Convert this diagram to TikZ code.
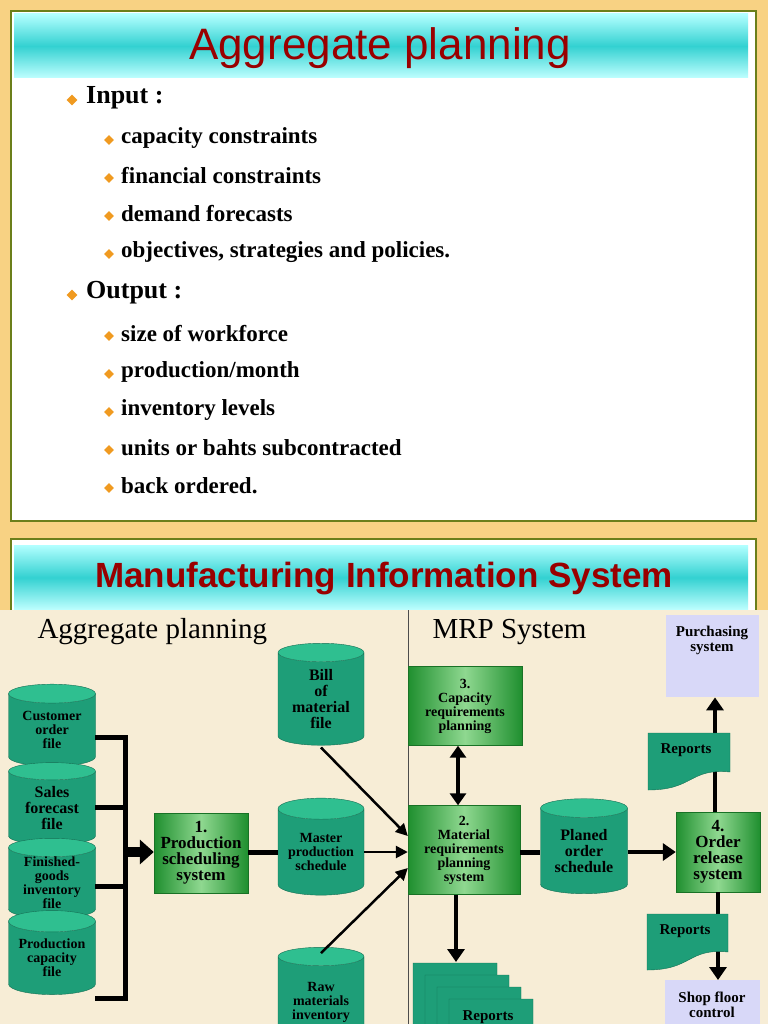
\documentclass[tikz,border=0pt]{standalone}
\usepackage{fontspec}
\setmainfont{Liberation Serif}
\newfontfamily\arial{Liberation Sans}
\usetikzlibrary{shapes.geometric,arrows.meta}
\definecolor{bgor}{HTML}{F8D283}
\definecolor{olive}{HTML}{6B7F1A}
\definecolor{dred}{HTML}{990000}
\definecolor{teal1}{HTML}{1E9E78}
\definecolor{teal2}{HTML}{2FBF90}
\definecolor{beige}{HTML}{F7EDD6}
\definecolor{gdark}{HTML}{1F8F2F}
\definecolor{glight}{HTML}{8FD890}
\definecolor{lav}{HTML}{D8D8F8}
\definecolor{bul}{HTML}{F09A20}
\tikzset{
 band/.style={top color=cyan!30!white, bottom color=cyan!25!white, middle color=cyan!55!teal!80},
 bullet/.style={diamond, fill=bul, inner sep=0pt, minimum width=11pt, minimum height=11pt},
 btext/.style={anchor=west, font=\fontsize{23}{26}\selectfont\bfseries, inner sep=0pt},
 cyl/.style={cylinder, shape border rotate=90, draw=teal1!70!black, line width=0.4pt, cylinder uses custom fill, cylinder body fill=teal1, cylinder end fill=teal2, aspect=0.32, inner sep=0pt, align=center, font=\fontsize{14}{14}\selectfont\bfseries},
 gbox/.style={draw=gdark!80!black, left color=gdark, right color=gdark, middle color=glight, align=center, inner sep=1pt, font=\fontsize{14}{14}\selectfont\bfseries},
 lbox/.style={fill=lav, align=center, inner sep=1pt, font=\fontsize{15}{15}\selectfont\bfseries},
 conn/.style={line width=5pt},
 arr/.style={line width=3.5pt, -{Triangle[length=13pt,width=17pt]}},
 sarr/.style={line width=2.5pt, -{Triangle[length=12pt,width=12pt]}},
 dtext/.style={font=\fontsize{15}{15}\selectfont\bfseries, inner sep=0pt}
}
\newcommand{\docshape}[4]{% x1 y1 x2 y2
 \fill[teal1, draw=teal1!70!black] (#1,#2) -- (#3,#2) -- (#3,{#4-18}) .. controls ({(#1+#3)/2},{#4-22}) and ({(#1+#3)/2+5},#4) .. (#1,#4) -- cycle;}
\begin{document}
\begin{tikzpicture}[x=1pt,y=-1pt]
\useasboundingbox (0,0) rectangle (768,1024);
\fill[bgor] (0,0) rectangle (768,1024);
% top slide
\draw[olive, line width=2.5pt, fill=white] (11,11) rectangle (756,521);
\shade[band] (14,14) rectangle (748,78);
\node[font=\arial\fontsize{44}{44}\selectfont, text=dred] (t1) at (380,48) {Aggregate planning};
\node[bullet] (b0) at (72,100) {};
\node[btext, font=\fontsize{26}{28}\selectfont\bfseries] (i0) at (86,98) {Input :};
\foreach \y/\t [count=\i] in {136/{capacity constraints},174/{financial constraints},212/{demand forecasts},250/{objectives, strategies and policies.}}{
 \node[bullet, minimum width=10pt, minimum height=10pt] (bi\i) at (109,\y+4) {};
 \node[btext] (ti\i) at (121,\y+2) {\t};}
\node[bullet] (b1) at (72,295) {};
\node[btext, font=\fontsize{26}{28}\selectfont\bfseries] (o0) at (86,293) {Output :};
\foreach \y/\t [count=\i] in {332/{size of workforce},370/{production/month},408/{inventory levels},446/{units or bahts subcontracted},484/{back ordered.}}{
 \node[bullet, minimum width=10pt, minimum height=10pt] (bo\i) at (109,\y+4) {};
 \node[btext] (to\i) at (121,\y+2) {\t};}
% second slide
\draw[olive, line width=2.5pt, fill=white] (11,539) rectangle (756,1030);
\shade[band] (14,545) rectangle (748,610);
\node[font=\arial\fontsize{35}{35}\selectfont\bfseries, text=dred] (t2) at (384,579) {Manufacturing Information System};
\fill[beige] (0,610) rectangle (768,1024);
\draw[line width=1pt, black!70] (408,610) -- (408,1024);
\node[font=\fontsize{29}{29}\selectfont, anchor=west] (ap) at (34,632) {Aggregate planning};
\node[font=\fontsize{29}{29}\selectfont, anchor=west] (mrp) at (429,632) {MRP System};
% left stack
\node[cyl, minimum width=87pt, minimum height=82pt] (c1) at (52,730) {Customer\\order\\file};
\node[cyl, minimum width=87pt, minimum height=82pt, font=\fontsize{16}{16}\selectfont\bfseries] (c2) at (52,808) {Sales\\forecast\\file};
\node[cyl, minimum width=87pt, minimum height=80pt] (c3) at (52,883) {Finished-\\goods\\inventory\\file};
\node[cyl, minimum width=87pt, minimum height=84pt] (c4) at (52,958) {Production\\capacity\\file};
\coordinate (j1) at (125,737); \coordinate (j2) at (125,807);
\coordinate (j3) at (125,886); \coordinate (j4) at (125,998);
\coordinate (jm) at (125,852);
\draw[conn] (95,737) -- (j1) -- (j4) -- (95,998);
\draw[conn] (95,807) -- (j2); \draw[conn] (95,886) -- (j3);
\node[gbox, minimum width=94pt, minimum height=80pt, font=\fontsize{17}{16}\selectfont\bfseries] (p1) at (201,853) {1.\\Production\\scheduling\\system};
\draw[line width=10pt, -{Triangle[length=14pt,width=24pt]}] (jm) -- (p1.west |- jm);
\node[cyl, minimum width=86pt, minimum height=102pt, font=\fontsize{16}{16}\selectfont\bfseries] (bom) at (321,699) {Bill\\of\\material\\file};
\node[cyl, minimum width=86pt, minimum height=97pt] (mps) at (321,852) {Master\\production\\schedule};
\node[cyl, minimum width=86pt, minimum height=100pt] (raw) at (321,1002) {Raw\\materials\\inventory};
\coordinate (hy) at (0,852);
\draw[conn] (p1.east |- hy) -- (mps.west |- hy);
\node[gbox, minimum width=112pt, minimum height=89pt] (p2) at (464,850) {2.\\Material\\requirements\\planning\\system};
\node[gbox, minimum width=114pt, minimum height=79pt] (p3) at (465,706) {3.\\Capacity\\requirements\\planning};
\draw[sarr] (bom.south) ++(0,2) -- (p2.west |- 0,836);
\draw[sarr] (mps.east |- hy) -- (p2.west |- hy);
\draw[sarr] (raw.north) ++(0,6) -- (p2.west |- 0,868);
\draw[line width=3.5pt, {Triangle[length=12pt,width=16pt]}-{Triangle[length=12pt,width=16pt]}] (p3.south -| 458,0) -- (p2.north -| 458,0);
\node[cyl, minimum width=87pt, minimum height=95pt, font=\fontsize{16}{16}\selectfont\bfseries] (pos) at (584,851) {Planed\\order\\schedule};
\draw[conn] (p2.east |- hy) -- (pos.west |- hy);
\node[gbox, minimum width=84pt, minimum height=80pt, font=\fontsize{17}{16}\selectfont\bfseries] (p4) at (718,852) {4.\\Order\\release\\system};
\draw[arr] (pos.east |- hy) -- (p4.west |- hy);
\node[lbox, minimum width=93pt, minimum height=80pt, anchor=north] (pur) at (712,615) {\rule{0pt}{20pt}Purchasing\\system\\[30pt]};
\node[lbox, minimum width=95pt, minimum height=50pt, anchor=north] (shop) at (712,980) {Shop floor\\control};
\draw[arr] (p4.north -| 715,0) -- (pur.south -| 715,0);
\draw[arr] (p4.south -| 718,0) -- (shop.north -| 718,0);
\docshape{648}{733}{730}{790}
\node[dtext] (r1) at (686,750) {Reports};
\docshape{647}{914}{728}{970}
\node[dtext] (r2) at (685,931) {Reports};
% report stack
\docshape{413}{963}{497}{1040}
\docshape{425}{975}{509}{1045}
\docshape{437}{987}{521}{1050}
\docshape{449}{999}{533}{1055}
\node[dtext] (r3) at (488,1017) {Reports};
\coordinate (rs) at (456,962);
\draw[arr] (p2.south -| 456,0) -- (rs);
\end{tikzpicture}
\end{document}
